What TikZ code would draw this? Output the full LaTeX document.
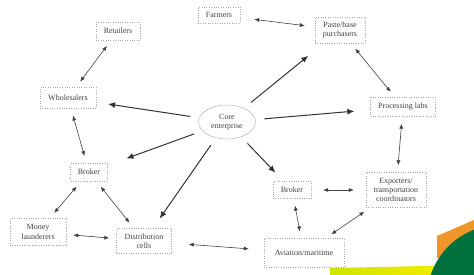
\documentclass[tikz,border=0pt]{standalone}
\usepackage{fontspec}
\setmainfont{Liberation Serif}
\usetikzlibrary{arrows.meta, shapes.geometric}
\definecolor{slidegreen}{RGB}{0,112,60}
\definecolor{slideorange}{RGB}{240,150,40}
\begin{document}
\begin{tikzpicture}[x = 1pt, y = -1pt,
    actor/.style = {draw = gray!70, dotted, align = center, inner sep = 2pt,
                    font = \fontsize{8}{9.4}\selectfont, text = black!75},
    link/.style = {{Latex[length = 5pt, width = 4pt]}-{Latex[length = 5pt, width = 4pt]},
                   black!75, line width = .6pt, shorten <= 7pt, shorten >= 7pt},
    push/.style = {-{Latex[length = 7pt, width = 6pt]}, black!80, line width = 1pt,
                   shorten <= 9pt, shorten >= 12pt}]
      \useasboundingbox (0,0) rectangle (474,275);
      % slide decoration
      \shade [left color = yellow!60!lime!90!black, right color = yellow!85!orange]
        (330,268) -- (474,265) -- (474,275) -- (330,275) -- cycle;
      \fill [slideorange] (437,236) -- (474,220) -- (474,262) -- (437,258) -- cycle;
      \fill [slidegreen] (500,298) circle (73);
      % actors
      \node [draw = gray!70, ellipse, minimum width = 57, minimum height = 34, align = center,
             font = \fontsize{8}{9.4}\selectfont, text = black!75]
        (core) at (227,122) {Core\\enterprise};
      \node [actor, minimum width = 42, minimum height = 16] (farmers) at (219,15) {Farmers};
      \node [actor, minimum width = 44, minimum height = 18] (retailers) at (118,31) {Retailers};
      \node [actor, minimum width = 56, minimum height = 21] (wholesalers) at (68,98) {Wholesalers};
      \node [actor, minimum width = 50, minimum height = 26] (paste) at (340,30) {Paste/base\\purchasers};
      \node [actor, minimum width = 65, minimum height = 19] (labs) at (403,107) {Processing labs};
      \node [actor, minimum width = 37, minimum height = 18] (brokerl) at (89,172) {Broker};
      \node [actor, minimum width = 56, minimum height = 27] (money) at (38,232) {Money\\launderers};
      \node [actor, minimum width = 55, minimum height = 25] (cells) at (144,241) {Distribution\\cells};
      \node [actor, minimum width = 38, minimum height = 17] (brokerr) at (292,190) {Broker};
      \node [actor, minimum width = 60, minimum height = 35] (exporters) at (396,190)
        {Exporters/\\transportation\\coordinators};
      \node [actor, minimum width = 80, minimum height = 29] (aviation) at (304,253) {Aviation/maritime};
      % from the core
      \draw [push] (core) -- (wholesalers);
      \draw [push, shorten >= 20pt] (core) -- (brokerl);
      \draw [push] (core) -- (cells);
      \draw [push, shorten >= 20pt] (core) -- (paste);
      \draw [push, shorten >= 16pt] (core) -- (labs);
      \draw [push] (core) -- (brokerr);
      % both ways
      \draw [link, shorten <= 14pt, shorten >= 10pt] (farmers) -- (paste);
      \draw [link] (retailers) -- (wholesalers);
      \draw [link] (wholesalers) -- (brokerl);
      \draw [link] (brokerl) -- (money);
      \draw [link] (brokerl) -- (cells);
      \draw [link] (money) -- (cells);
      \draw [link, shorten <= 17pt, shorten >= 15pt] (cells) -- (aviation);
      \draw [link] (paste) -- (labs);
      \draw [link] (labs) -- (exporters);
      \draw [link, shorten <= 12pt, shorten >= 12pt] (brokerr) -- (exporters);
      \draw [link] (brokerr) -- (aviation);
      \draw [link] (exporters) -- (aviation);
    \end{tikzpicture}
\end{document}
